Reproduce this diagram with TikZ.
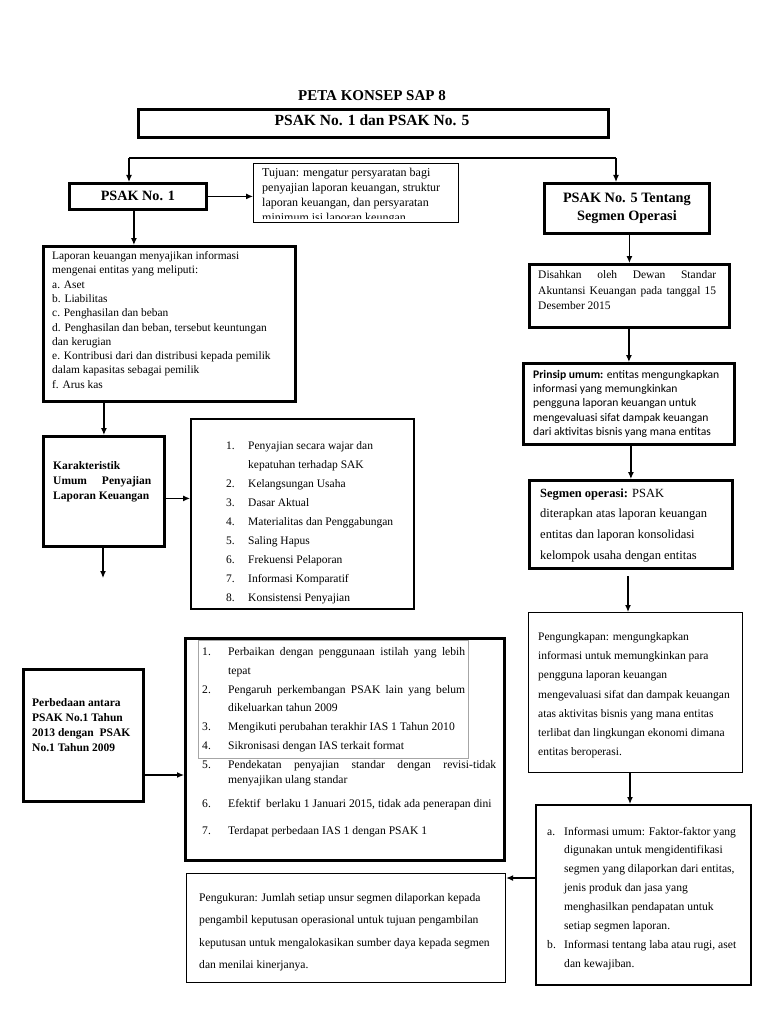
\documentclass[tikz,border=0pt]{standalone}
\usepackage{fontspec}
\setmainfont{Liberation Serif}
\newfontfamily\calibrifont{Carlito}
\usetikzlibrary{arrows.meta,calc}
\newcommand\nr[2][23pt]{\makebox[#1][l]{#2}}
\newcommand\jl[2]{\makebox[#1][s]{#2}}
\begin{document}
\begin{tikzpicture}[x=1pt,y=-1pt,
  bx/.style={draw,inner sep=0pt,anchor=north west,line width=#1},
  tk/.style={bx=2.8pt},
  tn/.style={bx=1.2pt},
  md/.style={bx=2.2pt},
  tx/.style={inner sep=0pt,anchor=base west},
  arr/.style={-{Latex[length=7pt,width=6pt]},line width=1.2pt},
  ln/.style={line width=1.2pt}]
\fill[white] (0,0) rectangle (768,1024);
\useasboundingbox (0,0) rectangle (768,1024);

% title and top
\node[inner sep=0pt,font=\bfseries\fontsize{15}{18}\selectfont] (title) at (372,96) {PETA KONSEP SAP 8};
\node[tk,minimum width=470pt,minimum height=28pt] (top) at (137,108) {};
\node[inner sep=0pt,font=\bfseries\fontsize{15.5}{18}\selectfont] (topT) at (372,120) {PSAK No. 1 dan PSAK No. 5};

% left column
\node[tk,minimum width=137pt,minimum height=26pt] (psak1) at (68,182) {};
\node[inner sep=0pt,font=\bfseries\fontsize{14.2}{16}\selectfont] (psak1T) at (psak1.center) {PSAK No. 1};

\node[tn,minimum width=205pt,minimum height=59pt] (tuj) at (253,163) {};
\begin{scope}
\clip (253.6,163.6) rectangle (457.4,218.3);
\node[tx] (tujT) at (262,176.5) {\parbox[t]{190pt}{\fontsize{12}{15}\selectfont
Tujuan: mengatur persyaratan bagi\\
penyajian laporan keuangan, struktur\\
laporan keuangan, dan persyaratan\\
minimum isi laporan keungan}};
\end{scope}

\node[tk,minimum width=252pt,minimum height=155pt] (lap) at (42,245) {};
\node[tx] (lapT) at (52,259.5) {\parbox[t]{240pt}{\fontsize{11.4}{14.3}\selectfont\raggedright
Laporan keuangan menyajikan informasi\\
mengenai entitas yang meliputi:\\
a. Aset\\
b. Liabilitas\\
c. Penghasilan dan beban\\
d. Penghasilan dan beban, tersebut keuntungan\\
dan kerugian\\
e. Kontribusi dari dan distribusi kepada pemilik\\
dalam kapasitas sebagai pemilik\\
f. Arus kas}};

\node[tk,minimum width=121pt,minimum height=110pt] (kar) at (42,435) {};
\node[tx] (karT) at (53,469.5) {\parbox[t]{98pt}{\bfseries\fontsize{11.5}{15}\selectfont
Karakteristik\\
\jl{98pt}{Umum Penyajian}\\
Laporan Keuangan}};

\node[md,minimum width=223pt,minimum height=190pt] (lst1) at (190,418) {};
\node[tx] (lst1T) at (226,449.5) {\parbox[t]{185pt}{\fontsize{11.5}{19}\selectfont
\nr[22pt]{1.}Penyajian secara wajar dan\\
\nr[22pt]{}kepatuhan terhadap SAK\\
\nr[22pt]{2.}Kelangsungan Usaha\\
\nr[22pt]{3.}Dasar Aktual\\
\nr[22pt]{4.}Materialitas dan Penggabungan\\
\nr[22pt]{5.}Saling Hapus\\
\nr[22pt]{6.}Frekuensi Pelaporan\\
\nr[22pt]{7.}Informasi Komparatif\\
\nr[22pt]{8.}Konsistensi Penyajian}};
\coordinate (karEnd) at (103,578);

\node[tk,minimum width=120pt,minimum height=132pt] (perb) at (22,668) {};
\node[tx] (perbT) at (32,706.5) {\parbox[t]{105pt}{\bfseries\fontsize{11.5}{15}\selectfont
Perbedaan antara\\
PSAK No.1 Tahun\\
2013 dengan~ PSAK\\
No.1 Tahun 2009}};

\node[tk,minimum width=319pt,minimum height=222pt] (lst2) at (184,637) {};
\node[bx=0.8pt,draw=black!35,minimum width=270pt,minimum height=118pt] (inner) at (198,640) {};
\node[tx] (lst2T) at (202,655.5) {\parbox[t]{300pt}{\fontsize{11.6}{18.8}\selectfont
\nr[26pt]{1.}\jl{237pt}{Perbaikan dengan penggunaan istilah yang lebih}\\
\nr[26pt]{}tepat\\
\nr[26pt]{2.}\jl{237pt}{Pengaruh perkembangan PSAK lain yang belum}\\
\nr[26pt]{}dikeluarkan tahun 2009\\
\nr[26pt]{3.}Mengikuti perubahan terakhir IAS 1 Tahun 2010\\
\nr[26pt]{4.}Sikronisasi dengan IAS terkait format\\
\nr[26pt]{5.}\jl{268pt}{Pendekatan penyajian standar dengan revisi-tidak}\\[-4pt]
\nr[26pt]{}menyajikan ulang standar\\[6pt]
\nr[26pt]{6.}Efektif~ berlaku 1 Januari 2015, tidak ada penerapan dini\\[8pt]
\nr[26pt]{7.}Terdapat perbedaan IAS 1 dengan PSAK 1}};
\coordinate (perbOut) at (142,775);

% right column
\node[tk,minimum width=165pt,minimum height=50pt] (psak5) at (543,182) {};
\node[inner sep=0pt,align=center,font=\bfseries\fontsize{14.3}{18}\selectfont] (psak5T) at (psak5.center) {PSAK No. 5 Tentang\\Segmen Operasi};

\node[tk,minimum width=200pt,minimum height=63pt] (dis) at (528,263) {};
\node[tx] (disT) at (538,278.5) {\parbox[t]{178pt}{\fontsize{11.5}{15.5}\selectfont
\jl{178pt}{Disahkan oleh Dewan Standar}\\
\jl{178pt}{Akuntansi Keuangan pada tanggal 15}\\
Desember 2015}};

\node[tk,minimum width=211pt,minimum height=81pt] (prin) at (522,362) {};
\node[tx] (prinT) at (533,378.5) {\parbox[t]{198pt}{\calibrifont\fontsize{11.6}{14.2}\selectfont
\textbf{Prinsip umum:} entitas mengungkapkan\\
informasi yang memungkinkan\\
pengguna laporan keuangan untuk\\
mengevaluasi sifat dampak keuangan\\
dari aktivitas bisnis yang mana entitas}};

\node[tk,minimum width=203pt,minimum height=88pt] (seg) at (528,479) {};
\node[tx] (segT) at (540,497) {\parbox[t]{190pt}{\fontsize{12.5}{20.7}\selectfont
\textbf{Segmen operasi:} PSAK\\
diterapkan atas laporan keuangan\\
entitas dan laporan konsolidasi\\
kelompok usaha dengan entitas}};
\coordinate (segGap) at (628,576);

\node[tn,minimum width=214pt,minimum height=160pt] (peng) at (528,612) {};
\node[tx] (pengT) at (538,640.5) {\parbox[t]{200pt}{\fontsize{11.5}{19.2}\selectfont
Pengungkapan: mengungkapkan\\
informasi untuk memungkinkan para\\
pengguna laporan keuangan\\
mengevaluasi sifat dan dampak keuangan\\
atas aktivitas bisnis yang mana entitas\\
terlibat dan lingkungan ekonomi dimana\\
entitas beroperasi.}};
\coordinate (pengOut) at (630,772);

\node[bx=1.6pt,minimum width=215pt,minimum height=180pt] (info) at (535,804) {};
\node[tx] (infoT) at (547,835) {\parbox[t]{205pt}{\fontsize{11.6}{18.9}\selectfont
\nr[17pt]{a.}Informasi umum: Faktor-faktor yang\\
\nr[17pt]{}digunakan untuk mengidentifikasi\\
\nr[17pt]{}segmen yang dilaporkan dari entitas,\\
\nr[17pt]{}jenis produk dan jasa yang\\
\nr[17pt]{}menghasilkan pendapatan untuk\\
\nr[17pt]{}setiap segmen laporan.\\
\nr[17pt]{b.}Informasi tentang laba atau rugi, aset\\
\nr[17pt]{}dan kewajiban.}};
\coordinate (infoOut) at (535,878);

\node[tn,minimum width=319pt,minimum height=109pt] (ukur) at (186,873) {};
\node[tx] (ukurT) at (199,901.5) {\parbox[t]{305pt}{\fontsize{11.6}{22.3}\selectfont
Pengukuran: Jumlah setiap unsur segmen dilaporkan kepada\\
pengambil keputusan operasional untuk tujuan pengambilan\\
keputusan untuk mengalokasikan sumber daya kepada segmen\\
dan menilai kinerjanya.}};

% connectors
\coordinate (hl) at (129,158);
\coordinate (hr) at (616,158);
\draw[ln] (hl) -- (hr);
\draw[arr] (hl) -- (hl |- psak1.north);
\draw[arr] (hr) -- (hr |- psak5.north);
\draw[arr] (psak1.east) -- (psak1.east -| tuj.west);
\draw[arr] ($(psak1.south)+(-4,0)$) -- ($(psak1.south |- lap.north)+(-4,0)$);
\draw[arr] (kar.north |- lap.south) -- (kar.north);
\draw[arr] ($(kar.east)+(0,7)$) -- ($(kar.east -| lst1.west)+(0,7)$);
\draw[arr] (kar.south -| karEnd) -- (karEnd);
\draw[arr] (perbOut) -- (perbOut -| lst2.west);
\draw[arr] (dis.north |- psak5.south) -- (dis.north);
\draw[arr] (prin.north |- dis.south) -- (prin.north);
\draw[arr] (seg.north |- prin.south) -- (seg.north);
\draw[arr] (segGap) -- (segGap |- peng.north);
\draw[arr] (pengOut) -- (pengOut |- info.north);
\draw[arr] (infoOut) -- (infoOut -| ukur.east);
\end{tikzpicture}
\end{document}
